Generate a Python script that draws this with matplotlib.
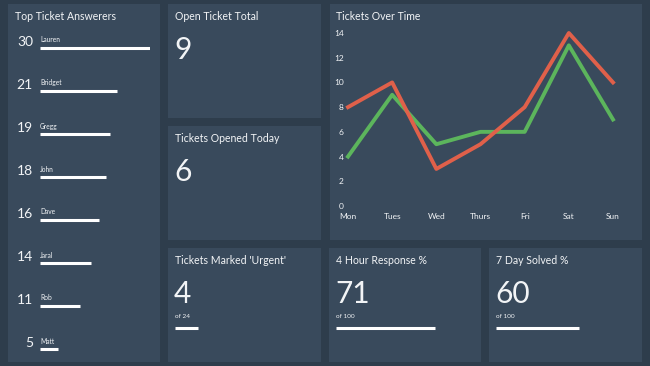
import matplotlib
matplotlib.use("Agg")
import matplotlib.pyplot as plt
from matplotlib.patches import Rectangle

plt.rcParams['font.family'] = ['Lato', 'DejaVu Sans']

# Data
answerers = ["Lauren", "Bridget", "Gregg", "John", "Dave", "Jaral", "Rob", "Matt"]
answered = [30, 21, 19, 18, 16, 14, 11, 5]

days = ["Mon", "Tues", "Wed", "Thurs", "Fri", "Sat", "Sun"]
tickets_red = [8, 10, 3, 5, 8, 14, 10]
tickets_green = [4, 9, 5, 6, 6, 13, 7]

open_total = 9
opened_today = 6
urgent, urgent_of = 4, 24
response_4h, response_of = 71, 100
solved_7d, solved_of = 60, 100

W, H = 650, 366
BG = "#2e3d4c"
PANEL = "#394a5c"
TXT = "#f2f4f6"
RED = "#e0604a"
GREEN = "#5cb55c"

fig = plt.figure(figsize=(W / 100, H / 100), dpi=100)
fig.patch.set_facecolor(BG)


def rect(x, y, w, h):
    # pixel box (top-left origin) -> figure fraction
    return [x / W, 1 - (y + h) / H, w / W, h / H]


# background layer in pixel coords
bg = fig.add_axes([0, 0, 1, 1])
bg.set_xlim(0, W)
bg.set_ylim(H, 0)
bg.axis("off")

panels = [
    (8, 4, 152, 358),
    (168, 4, 153, 114),
    (168, 126, 153, 114),
    (330, 4, 312, 236),
    (168, 248, 153, 114),
    (329, 248, 152, 114),
    (489, 248, 153, 114),
]
for x, y, w, h in panels:
    bg.add_patch(Rectangle((x, y), w, h, facecolor=PANEL, edgecolor="none"))

title_kw = dict(color=TXT, fontsize=7.6, va="center", ha="left")
bg.text(15, 17, "Top Ticket Answerers", **title_kw)
bg.text(175, 17, "Open Ticket Total", **title_kw)
bg.text(175, 139, "Tickets Opened Today", **title_kw)
bg.text(336, 17, "Tickets Over Time", **title_kw)
bg.text(175, 261, "Tickets Marked 'Urgent'", **title_kw)
bg.text(336, 261, "4 Hour Response %", **title_kw)
bg.text(496, 261, "7 Day Solved %", **title_kw)

big_kw = dict(color=TXT, fontsize=21.5, va="center", ha="left")
bg.text(174, 50, str(open_total), **big_kw)
bg.text(174, 172, str(opened_today), **big_kw)

# stat tiles with progress bar
tiles = [(175, urgent, urgent_of), (336, response_4h, response_of), (496, solved_7d, solved_of)]
for x, val, total in tiles:
    bg.text(x - 1, 294, str(val), **big_kw)
    bg.text(x, 316, "of %d" % total, color=TXT, fontsize=4.6, va="center", ha="left")
    pax = fig.add_axes(rect(x, 324, 139, 8))
    pax.set_xlim(0, total)
    pax.set_ylim(-1, 1)
    pax.axis("off")
    pax.plot([0, val], [0, 0], color="white", lw=2.2, solid_capstyle="butt")

# leaderboard
lax = fig.add_axes(rect(40, 26.5, 110, 344))
lax.set_xlim(0, max(answered))
lax.set_ylim(len(answered) - 0.5, -0.5)
lax.axis("off")
for i, (name, v) in enumerate(zip(answerers, answered)):
    lax.plot([0, v], [i, i], color="white", lw=2.2, solid_capstyle="butt")
    lax.annotate(str(v), xy=(0, i), xytext=(-7, 6), textcoords="offset pixels",
                 color=TXT, fontsize=10, ha="right", va="center")
    lax.annotate(name, xy=(0, i), xytext=(0, 8), textcoords="offset pixels",
                 color=TXT, fontsize=4.8, ha="left", va="center")

# line chart
ax = fig.add_axes(rect(348, 33, 265, 173))
ax.set_facecolor("none")
x = list(range(len(days)))
ax.plot(x, tickets_green, color=GREEN, lw=2.8, clip_on=False)
ax.plot(x, tickets_red, color=RED, lw=2.8, clip_on=False)
ax.set_xlim(0, 6)
ax.set_ylim(0, 14)
ax.set_xticks(x)
ax.set_xticklabels(days)
ax.set_yticks(range(0, 15, 2))
ax.tick_params(length=0, colors=TXT, labelsize=6)
ax.tick_params(axis="y", pad=3)
ax.tick_params(axis="x", pad=5)
for s in ax.spines.values():
    s.set_visible(False)

fig.savefig("out.png", dpi=100, facecolor=BG)
